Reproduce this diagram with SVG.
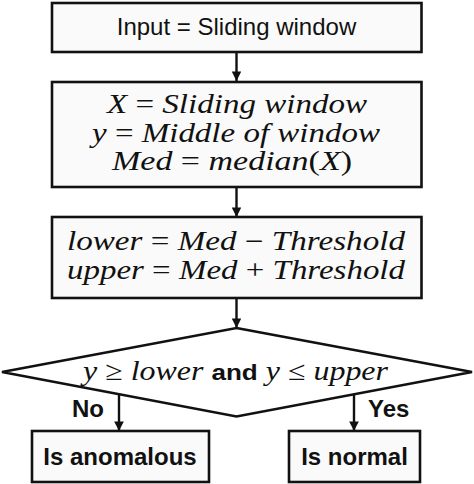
<svg xmlns="http://www.w3.org/2000/svg" width="474" height="484" viewBox="0 0 474 484">
<style>
.box{fill:#fafafa;stroke:#111;stroke-width:2.6}
.dia{fill:#fff;stroke:#111;stroke-width:2.6}
.sans{font-family:"Liberation Sans",Arial,sans-serif;font-size:24px;fill:#111}
.b{font-weight:bold}
.math{font-family:"Liberation Serif","Times New Roman",serif;font-size:27px;fill:#111}
.i{font-style:italic}
.con{stroke:#111;stroke-width:2.4;fill:none}
</style>
<defs>
<marker id="ah" viewBox="0 0 10 10" refX="10" refY="5" markerWidth="4.4" markerHeight="4" orient="auto" markerUnits="strokeWidth">
<path d="M0,0 L10,5 L0,10 z" fill="#111"/>
</marker>
</defs>
<g id="connectors">
<line class="con" x1="236.5" y1="52" x2="236.5" y2="81" marker-end="url(#ah)"/>
<line class="con" x1="236.5" y1="187" x2="236.5" y2="217" marker-end="url(#ah)"/>
<line class="con" x1="236.5" y1="298" x2="236.5" y2="328" marker-end="url(#ah)"/>
<line class="con" x1="119" y1="394" x2="119" y2="431" marker-end="url(#ah)"/>
<line class="con" x1="354" y1="394" x2="354" y2="431" marker-end="url(#ah)"/>
</g>
<g id="input">
<rect class="box" x="52" y="3" width="369.5" height="49"/>
<text class="sans" x="236.5" y="35" text-anchor="middle">Input = Sliding window</text>
</g>
<g id="defs-node">
<rect class="box" x="52" y="82" width="369.5" height="105"/>
<text class="math" x="237" y="113" text-anchor="middle" textLength="260" lengthAdjust="spacingAndGlyphs"><tspan class="i">X</tspan> = <tspan class="i">Sliding window</tspan></text>
<text class="math" x="236" y="142" text-anchor="middle" textLength="288" lengthAdjust="spacingAndGlyphs"><tspan class="i">y</tspan> = <tspan class="i">Middle of window</tspan></text>
<text class="math" x="232" y="170" text-anchor="middle" textLength="240" lengthAdjust="spacingAndGlyphs"><tspan class="i">Med</tspan> = <tspan class="i">median</tspan>(<tspan class="i">X</tspan>)</text>
</g>
<g id="bounds">
<rect class="box" x="52" y="217" width="369.5" height="81"/>
<text class="math" x="236" y="250" text-anchor="middle" textLength="338" lengthAdjust="spacingAndGlyphs"><tspan class="i">lower</tspan> = <tspan class="i">Med</tspan> − <tspan class="i">Threshold</tspan></text>
<text class="math" x="236" y="279" text-anchor="middle" textLength="338" lengthAdjust="spacingAndGlyphs"><tspan class="i">upper</tspan> = <tspan class="i">Med</tspan> + <tspan class="i">Threshold</tspan></text>
</g>
<g id="decision">
<polygon class="dia" points="236.5,328 472,372 236.5,416.5 2,372"/>
<text class="math" x="235.5" y="380" text-anchor="middle" textLength="305" lengthAdjust="spacingAndGlyphs"><tspan class="i">y</tspan> ≥ <tspan class="i">lower</tspan> <tspan class="sans b" style="font-size:22px">and</tspan> <tspan class="i">y</tspan> ≤ <tspan class="i">upper</tspan></text>
</g>
<g id="labels">
<text class="sans b" x="72" y="417">No</text>
<text class="sans b" x="368" y="417">Yes</text>
</g>
<g id="anomalous">
<rect class="box" x="32" y="431" width="177" height="51"/>
<text class="sans b" x="120" y="465" text-anchor="middle">Is anomalous</text>
</g>
<g id="normal">
<rect class="box" x="289" y="431" width="131" height="51"/>
<text class="sans b" x="354.5" y="465" text-anchor="middle">Is normal</text>
</g>
</svg>
